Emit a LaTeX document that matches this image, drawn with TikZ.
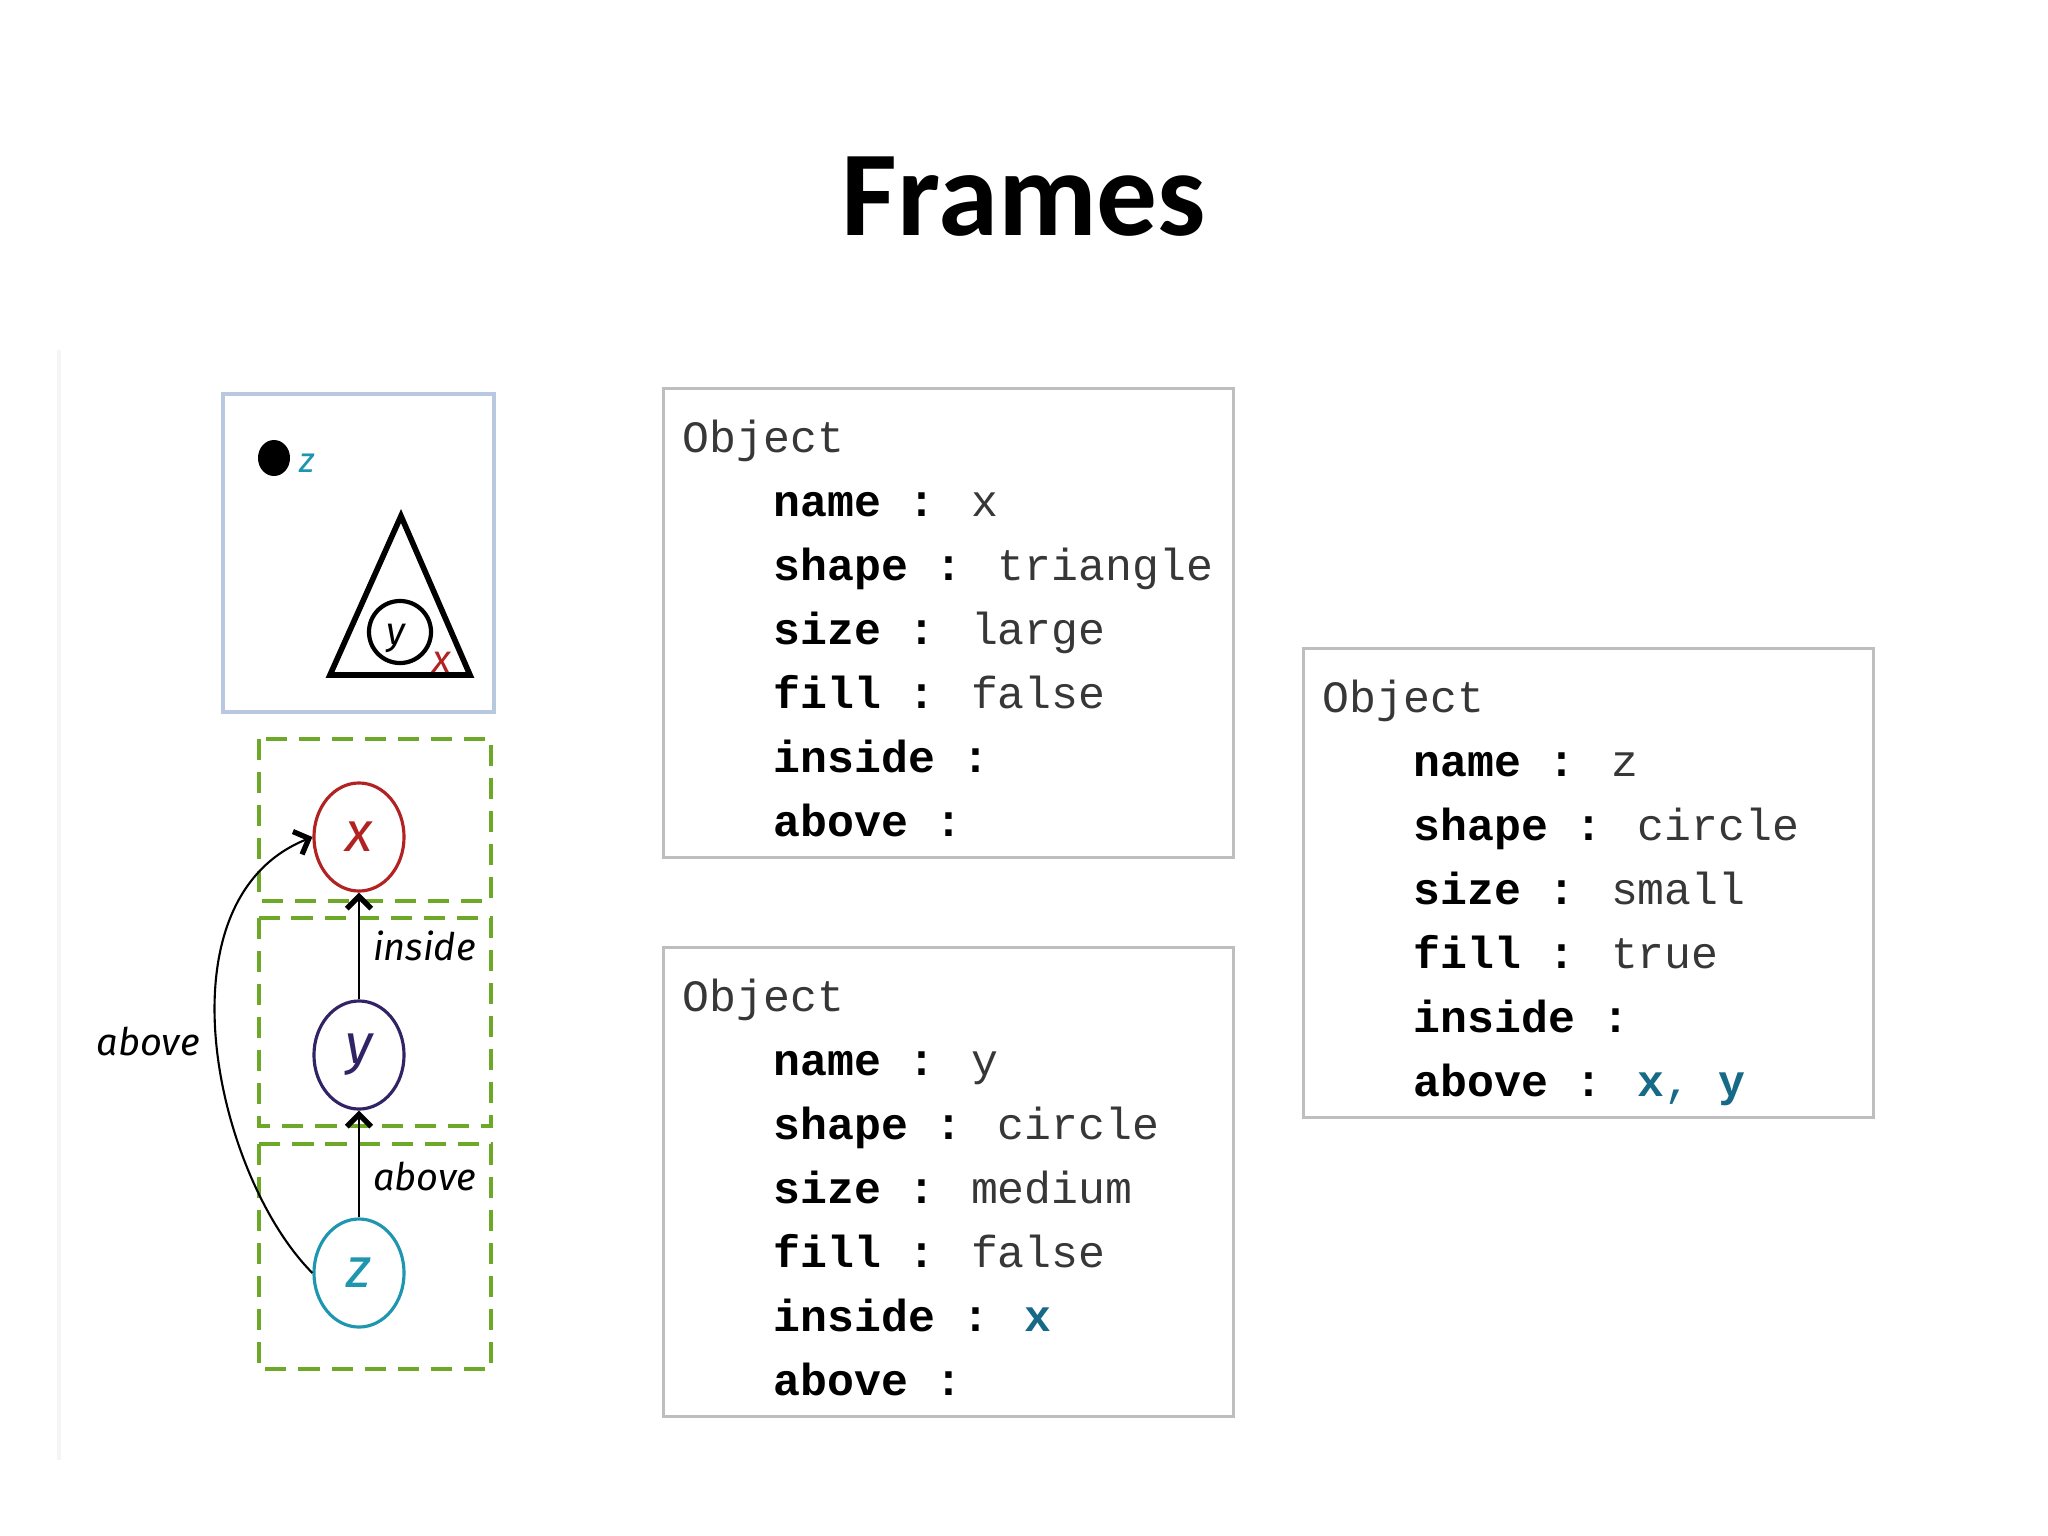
\documentclass[tikz,border=0pt]{standalone}
\usepackage{fontspec}
\usetikzlibrary{arrows.meta,shapes.geometric}
\setmainfont{Liberation Sans}
\newfontfamily\titlefont{Carlito}
\newfontfamily\codefont{Liberation Mono}
\newfontfamily\hand{Fira Sans}
\definecolor{picblue}{RGB}{185,200,225}
\definecolor{framegreen}{RGB}{110,168,40}
\definecolor{xred}{RGB}{178,34,34}
\definecolor{ypurple}{RGB}{50,35,100}
\definecolor{zteal}{RGB}{30,150,175}
\definecolor{boxgray}{RGB}{190,190,190}
\definecolor{valgray}{RGB}{55,55,55}
\definecolor{refteal}{RGB}{22,105,135}
\begin{document}
\begin{tikzpicture}[x=0.01cm,y=-0.01cm,
  picbox/.style={draw=picblue, line width=0.9pt},
  framebox/.style={draw=framegreen, line width=1.2pt, dash pattern=on 6pt off 3.4pt},
  gnode/.style={ellipse, line width=0.9pt, minimum width=0.9cm, minimum height=1.08cm, inner sep=0pt, font=\hand\itshape\fontsize{16pt}{16pt}\selectfont},
  edge/.style={draw, line width=0.6pt, -{Straight Barb[length=3.5pt,width=7pt,line width=1.5pt]}},
  lbl/.style={font=\hand\itshape\fontsize{10.8pt}{12pt}\selectfont, inner sep=0pt},
  obox/.style={draw=boxgray, line width=0.8pt, anchor=north west, minimum width=5.7cm, minimum height=4.69cm, inner sep=0pt},
  otext/.style={anchor=base west, inner sep=0pt, text=valgray, font=\codefont\fontsize{12.75pt}{15pt}\selectfont}
]
\useasboundingbox (0,0) rectangle (2048,1536);
% faint left edge
\draw[black!4, line width=1.2pt] (59,350) -- (59,1460);
% title
\node[anchor=base, inner sep=0pt, font=\titlefont\bfseries\fontsize{34.5pt}{40pt}\selectfont] (title) at (1024,235) {Frames};

% picture box
\draw[picbox] (223,394) rectangle (494,712);
\fill (274,458) ellipse [x radius=0.16cm, y radius=0.18cm];
\node[font=\hand\itshape\fontsize{10pt}{10pt}\selectfont, text=zteal, inner sep=0pt] (pz) at (307,463) {z};
\draw[line width=1.6pt, line join=miter] (401,516) -- (470,675) -- (330,675) -- cycle;
\draw[line width=1.2pt] (400,632) circle [radius=0.31cm];
\node[font=\hand\itshape\fontsize{11pt}{11pt}\selectfont, inner sep=0pt] (py) at (396,638) {y};
\node[font=\hand\itshape\fontsize{11pt}{11pt}\selectfont, text=xred, inner sep=0pt] (px) at (442,662) {x};

% frames
\draw[framebox] (259,739) rectangle (491,901);
\draw[framebox] (259,918) rectangle (491,1126);
\draw[framebox] (259,1144) rectangle (491,1369);

% graph
\node[gnode, draw=xred, text=xred] (x) at (359,837) {x};
\node[gnode, draw=ypurple, text=ypurple] (y) at (359,1055) {y};
\node[gnode, draw=zteal, text=zteal] (z) at (359,1273) {z};
\draw[edge] (y) -- node[lbl, anchor=west, xshift=0.13cm] (linside) {inside} (x);
\draw[edge] (z) -- node[lbl, anchor=west, xshift=0.13cm, yshift=-0.12cm] (labove) {above} (y);
\draw[edge] (z.west) .. controls (215,1175) and (155,900) .. node[lbl, pos=0.5, anchor=east, xshift=-0.16cm] (lcurve) {above} (x.west);

% object box 1
\node[obox] (o1) at (662,387) {};
\node[otext] (o1a) at (682,452) {Object};
\node[otext] (o1b) at (773,516) {\textcolor{black}{\textbf{name :}} x};
\node[otext] (o1c) at (773,580) {\textcolor{black}{\textbf{shape :}} triangle};
\node[otext] (o1d) at (773,644) {\textcolor{black}{\textbf{size :}} large};
\node[otext] (o1e) at (773,708) {\textcolor{black}{\textbf{fill :}} false};
\node[otext] (o1f) at (773,772) {\textcolor{black}{\textbf{inside :}}};
\node[otext] (o1g) at (773,836) {\textcolor{black}{\textbf{above :}}};

% object box 2
\node[obox] (o2) at (662,946) {};
\node[otext] (o2a) at (682,1011) {Object};
\node[otext] (o2b) at (773,1075) {\textcolor{black}{\textbf{name :}} y};
\node[otext] (o2c) at (773,1139) {\textcolor{black}{\textbf{shape :}} circle};
\node[otext] (o2d) at (773,1203) {\textcolor{black}{\textbf{size :}} medium};
\node[otext] (o2e) at (773,1267) {\textcolor{black}{\textbf{fill :}} false};
\node[otext] (o2f) at (773,1331) {\textcolor{black}{\textbf{inside :}} \textcolor{refteal}{\textbf{x}}};
\node[otext] (o2g) at (773,1395) {\textcolor{black}{\textbf{above :}}};

% object box 3
\node[obox] (o3) at (1302,647) {};
\node[otext] (o3a) at (1322,712) {Object};
\node[otext] (o3b) at (1413,776) {\textcolor{black}{\textbf{name :}} z};
\node[otext] (o3c) at (1413,840) {\textcolor{black}{\textbf{shape :}} circle};
\node[otext] (o3d) at (1413,904) {\textcolor{black}{\textbf{size :}} small};
\node[otext] (o3e) at (1413,968) {\textcolor{black}{\textbf{fill :}} true};
\node[otext] (o3f) at (1413,1032) {\textcolor{black}{\textbf{inside :}}};
\node[otext] (o3g) at (1413,1096) {\textcolor{black}{\textbf{above :}} \textcolor{refteal}{\textbf{x}, \textbf{y}}};
\end{tikzpicture}
\end{document}
